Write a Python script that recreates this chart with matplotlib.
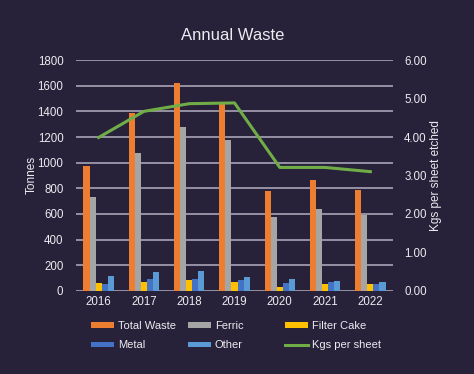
import matplotlib.pyplot as plt
from matplotlib.ticker import FormatStrFormatter
import numpy as np

plt.rcParams["font.family"] = ["Liberation Sans", "DejaVu Sans"]

years = ["2016", "2017", "2018", "2019", "2020", "2021", "2022"]
total_waste = [978, 1391, 1621, 1462, 776, 866, 790]
ferric = [732, 1075, 1276, 1180, 578, 635, 588]
filter_cake = [63, 71, 82, 71, 31, 50, 50]
metal = [50, 92, 89, 82, 60, 68, 52]
other = [118, 147, 157, 107, 89, 78, 71]
kgs_per_sheet = [3.99, 4.67, 4.87, 4.89, 3.21, 3.21, 3.10]

BG = "#272139"
TXT = "#ecebf0"
GRID = "#b3afc0"

fig = plt.figure(figsize=(4.74, 3.74), dpi=100, facecolor=BG)
ax = fig.add_axes([0.1603, 0.2227, 0.6688, 0.6161])
ax.set_facecolor(BG)

x = np.arange(len(years))
w = 0.134
series = [
    ("Total Waste", total_waste, "#ED7D31"),
    ("Ferric", ferric, "#A5A5A5"),
    ("Filter Cake", filter_cake, "#FFC000"),
    ("Metal", metal, "#4472C4"),
    ("Other", other, "#5B9BD5"),
]
handles = {}
for i, (name, vals, col) in enumerate(series):
    handles[name] = ax.bar(x + (i - 2) * w, vals, w, color=col, label=name, zorder=3)

ax.set_xlim(-0.5, len(years) - 0.5)
ax.set_ylim(0, 1800)
ax.set_yticks(range(0, 1801, 200))
ax.set_xticks(x)
ax.set_xticklabels(years)
ax.grid(axis="y", color=GRID, lw=1.1, zorder=0)
for s in ax.spines.values():
    s.set_visible(False)
ax.tick_params(length=0, colors=TXT, labelsize=8.3)
ax.tick_params(axis="y", pad=9)
ax.tick_params(axis="x", pad=4)

ax2 = ax.twinx()
ax2.set_ylim(0, 6)
ax2.set_yticks(range(0, 7))
ax2.yaxis.set_major_formatter(FormatStrFormatter("%.2f"))
line, = ax2.plot(x, kgs_per_sheet, color="#70AD47", lw=2.2, label="Kgs per sheet", zorder=4)
for s in ax2.spines.values():
    s.set_visible(False)
ax2.tick_params(length=0, colors=TXT, labelsize=8.3, pad=8)
handles["Kgs per sheet"] = line

fig.text(0.4916, 1 - 36 / 374, "Annual Waste", ha="center", va="center", fontsize=12, color=TXT)
fig.text(32 / 474, 1 - 175 / 374, "Tonnes", rotation=90, ha="center", va="center", fontsize=8.5, color=TXT)
fig.text(436 / 474, 1 - 176 / 374, "Kgs per sheet etched", rotation=90, ha="center", va="center",
         fontsize=8.5, color=TXT)

# legend in three fixed columns like the original
cols = [(["Total Waste", "Metal"], 91), (["Ferric", "Other"], 188), (["Filter Cake", "Kgs per sheet"], 285)]
for names, xpx in cols:
    leg = fig.legend([handles[n] for n in names], names, loc="upper left",
                     bbox_to_anchor=(xpx / 474, 1 - 321 / 374), bbox_transform=fig.transFigure,
                     frameon=False, fontsize=8, labelcolor=TXT, borderpad=0, borderaxespad=0,
                     handlelength=2.1, handleheight=0.45, handletextpad=0.3, labelspacing=0.85)

fig.savefig("out.png", dpi=100, facecolor=BG)
